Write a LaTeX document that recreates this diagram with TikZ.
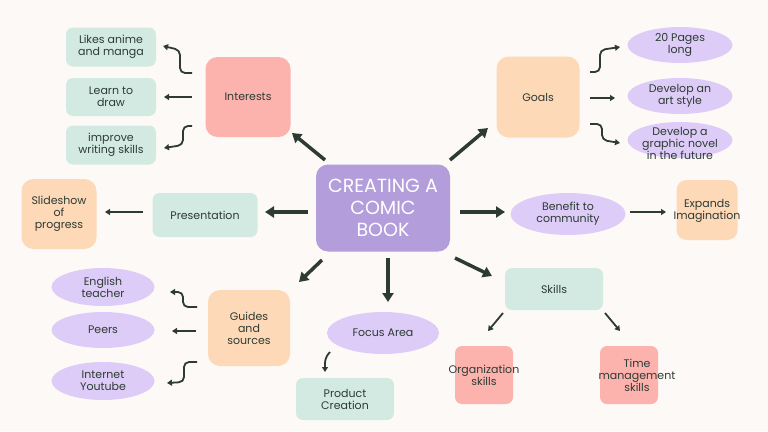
\documentclass[tikz,border=0pt]{standalone}
\usepackage{fontspec}
\setmainfont{Poppins}
\usetikzlibrary{shapes.geometric,arrows.meta}
\definecolor{bgc}{HTML}{FDF9F6}
\definecolor{teal}{HTML}{D3EAE3}
\definecolor{pinkc}{HTML}{FCB3AE}
\definecolor{peach}{HTML}{FDD9B8}
\definecolor{lav}{HTML}{DDCCF7}
\definecolor{purp}{HTML}{B39DDB}
\definecolor{ink}{HTML}{2D3B33}
\tikzset{
 box/.style={rectangle,rounded corners=7pt,align=center,text=ink,font=\fontsize{11}{12}\selectfont,inner sep=2pt},
 ell/.style={ellipse,fill=lav,align=center,text=ink,font=\fontsize{11}{12}\selectfont,inner sep=0pt},
 big/.style={ink,line width=3.5pt,-{Triangle[length=9pt,width=11pt]}},
 thin/.style={ink,line width=1.8pt,-{Triangle[length=5pt,width=6pt]},rounded corners=5pt}
}
\begin{document}
\begin{tikzpicture}[x=1pt,y=-1pt]
\fill[bgc] (0,0) rectangle (768,431);
\useasboundingbox (0,0) rectangle (768,431);
\node[box,fill=purp,text=white,minimum width=134pt,minimum height=87pt,rounded corners=12pt,font=\fontsize{19}{22}\selectfont] (c) at (383,208) {CREATING A\\COMIC\\BOOK};
\node[box,fill=pinkc,minimum width=85pt,minimum height=80pt,rounded corners=12pt] (int) at (248,97) {Interests};
\node[box,fill=teal,minimum width=90pt,minimum height=39pt] (l1) at (111,47) {Likes anime\\and manga};
\node[box,fill=teal,minimum width=90pt,minimum height=38pt] (l2) at (111,97) {Learn to\\draw};
\node[box,fill=teal,minimum width=90pt,minimum height=39pt] (l3) at (111,145) {improve\\writing skills};
\node[box,fill=peach,minimum width=83pt,minimum height=81pt,rounded corners=12pt] (goal) at (538,97) {Goals};
\node[ell,minimum width=105pt,minimum height=36pt] (g1) at (680,45) {20 Pages\\long};
\node[ell,minimum width=105pt,minimum height=36pt] (g2) at (680,96) {Develop an\\art style};
\node[ell,minimum width=105pt,minimum height=36pt] (g3) at (680,140) {};
\node[box,align=center,inner sep=0pt] at (680,143) {Develop a\\graphic novel\\in the future};
\node[box,fill=teal,minimum width=105pt,minimum height=44pt] (pres) at (205,215) {Presentation};
\node[box,fill=peach,minimum width=75pt,minimum height=70pt,rounded corners=12pt] (slide) at (59,214) {Slideshow\\of\\progress};
\node[ell,minimum width=115pt,minimum height=42pt] (ben) at (568,214) {Benefit to\\community};
\node[box,fill=peach,minimum width=61pt,minimum height=60pt,rounded corners=10pt] (exp) at (707,210) {};
\node[box,inner sep=0pt] at (707,211) {Expands\\Imagination};
\node[box,fill=teal,minimum width=98pt,minimum height=42pt] (sk) at (554,289) {Skills};
\node[box,fill=pinkc,minimum width=58pt,minimum height=58pt] (org) at (484,375) {};
\node[box,inner sep=0pt] at (484,375) {Organization\\skills};
\node[box,fill=pinkc,minimum width=58pt,minimum height=58pt] (tm) at (629,375) {};
\node[box,inner sep=0pt] at (637,375) {Time\\management\\skills};
\node[ell,minimum width=112pt,minimum height=42pt] (foc) at (383,333) {Focus Area};
\node[box,fill=teal,minimum width=98pt,minimum height=42pt] (prod) at (345,399) {Product\\Creation};
\node[box,fill=peach,minimum width=82pt,minimum height=76pt,rounded corners=12pt] (gui) at (249,328) {Guides\\and\\sources};
\node[ell,minimum width=103pt,minimum height=38pt] (e1) at (103,287) {English\\teacher};
\node[ell,minimum width=103pt,minimum height=36pt] (e2) at (103,330) {Peers};
\node[ell,minimum width=103pt,minimum height=38pt] (e3) at (103,381) {Internet\\Youtube};
% big arrows
\draw[big] (325,160) -- (292,133);
\draw[big] (450,160) -- (488,128);
\draw[big] (308,212) -- (265,212);
\draw[big] (460,212) -- (505,212);
\draw[big] (455,258) -- (492,276);
\draw[big] (388,258) -- (388,302);
\draw[big] (322,260) -- (299,282);
% thin arrows
\draw[thin] (192,73) -- (180,73) -- (180,50) -- (163,46);
\draw[thin] (192,97) -- (164,97);
\draw[thin] (192,126) -- (183,126) -- (183,145) -- (164,148);
\draw[thin] (590,72) -- (600,72) -- (600,50) -- (620,47);
\draw[thin] (590,98) -- (615,98);
\draw[thin] (590,124) -- (602,124) -- (602,140) -- (620,143);
\draw[thin] (143,212) -- (105,212);
\draw[thin] (630,212) -- (666,212);
\draw[thin] (503,313) -- (488,331);
\draw[thin] (605,313) -- (620,331);
\draw[thin] (330,352) -- (325,358) -- (325,372);
\draw[thin] (197,307) -- (183,307) -- (183,292) -- (170,292);
\draw[thin] (196,331) -- (172,331);
\draw[thin] (197,362) -- (184,362) -- (184,382) -- (167,383);
\end{tikzpicture}
\end{document}
